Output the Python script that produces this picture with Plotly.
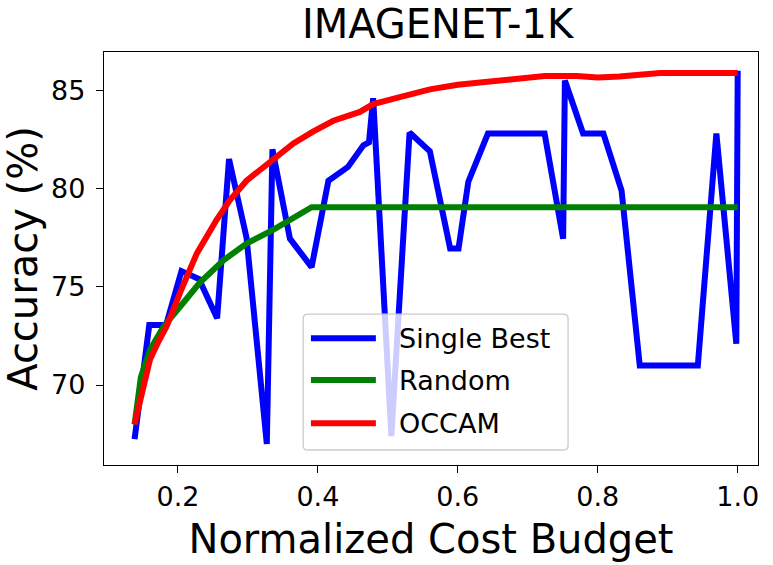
import plotly.graph_objects as go

# ---- data ----
single_x = [0.138, 0.159, 0.183, 0.205, 0.230, 0.256, 0.273, 0.298, 0.327, 0.335,
            0.360, 0.391, 0.415, 0.443, 0.465, 0.473, 0.479, 0.505, 0.531, 0.560,
            0.589, 0.601, 0.615, 0.643, 0.724, 0.7505, 0.753, 0.779, 0.808, 0.834,
            0.860, 0.943, 0.9695, 0.998, 1.0]
single_y = [67.25, 73.05, 73.05, 75.8, 75.4, 73.4, 81.5, 77.5, 67.0, 82.0,
            77.45, 76.0, 80.4, 81.1, 82.2, 82.35, 84.6, 67.4, 82.85, 81.9,
            76.95, 76.95, 80.35, 82.8, 82.8, 77.45, 85.5, 82.8, 82.8, 79.9,
            71.0, 71.0, 82.8, 72.1, 86.0]

random_x = [0.138, 0.147, 0.160, 0.180, 0.208, 0.231, 0.265, 0.298, 0.336, 0.360, 0.391, 1.0]
random_y = [68.0, 70.4, 71.8, 73.0, 74.2, 75.2, 76.35, 77.2, 77.9, 78.4, 79.05, 79.05]

occam_x = [0.138, 0.150, 0.160, 0.172, 0.184, 0.203, 0.227, 0.255, 0.274, 0.298,
           0.331, 0.365, 0.393, 0.422, 0.460, 0.479, 0.517, 0.560, 0.600, 0.650,
           0.698, 0.724, 0.770, 0.800, 0.831, 0.865, 0.889, 1.0]
occam_y = [68.0, 69.9, 71.3, 72.2, 73.0, 74.7, 76.7, 78.4, 79.4, 80.4,
           81.35, 82.3, 82.9, 83.45, 83.9, 84.3, 84.65, 85.05, 85.28, 85.45,
           85.6, 85.73, 85.73, 85.65, 85.7, 85.8, 85.88, 85.88]

series_names = ["Single Best", "Random", "OCCAM"]
series_colors = ["#0000ff", "#008000", "#ff0000"]

x_ticks = [0.2, 0.4, 0.6, 0.8, 1.0]
x_ticktext = ["0.2", "0.4", "0.6", "0.8", "1.0"]
y_ticks = [70, 75, 80, 85]
y_ticktext = ["70", "75", "80", "85"]

FONT = "DejaVu Sans"

fig = go.Figure()
for xs, ys, name, col in zip([single_x, random_x, occam_x],
                             [single_y, random_y, occam_y],
                             series_names, series_colors):
    fig.add_trace(go.Scatter(x=xs, y=ys, mode="lines", name=name,
                             line=dict(color=col, width=6),
                             showlegend=False))

# ---- custom legend (matplotlib-style box) ----
lx0, lx1, ly0, ly1 = 0.3046, 0.7096, 0.0363, 0.3653
rx, ry = 0.007, 0.011
path = (f"M{lx0+rx},{ly0} L{lx1-rx},{ly0} Q{lx1},{ly0} {lx1},{ly0+ry} "
        f"L{lx1},{ly1-ry} Q{lx1},{ly1} {lx1-rx},{ly1} L{lx0+rx},{ly1} "
        f"Q{lx0},{ly1} {lx0},{ly1-ry} L{lx0},{ly0+ry} Q{lx0},{ly0} {lx0+rx},{ly0} Z")
shapes = [dict(type="path", path=path, xref="paper", yref="paper",
               fillcolor="rgba(255,255,255,0.8)",
               line=dict(color="#cccccc", width=1.3), layer="above")]
annotations = []
row_y = [0.3066, 0.2057, 0.1009]
for yy, name, col in zip(row_y, series_names, series_colors):
    shapes.append(dict(type="line", xref="paper", yref="paper",
                       x0=0.3164, x1=0.4157, y0=yy, y1=yy,
                       line=dict(color=col, width=6), layer="above"))
    annotations.append(dict(text=name, xref="paper", yref="paper",
                            x=0.4473, y=yy, xanchor="left", yanchor="middle",
                            showarrow=False,
                            font=dict(family=FONT, size=27, color="black")))

axis_common = dict(showline=True, linecolor="black", linewidth=1.3, mirror=True,
                   ticks="outside", ticklen=7, tickwidth=1.3, tickcolor="black",
                   showgrid=False, zeroline=False,
                   tickfont=dict(family=FONT, size=27, color="black"))

fig.update_layout(
    width=773, height=565,
    margin=dict(l=104, r=15, t=52, b=100, autoexpand=False),
    paper_bgcolor="white", plot_bgcolor="white",
    title=dict(text="IMAGENET-1K", x=0.51, xref="paper", xanchor="center",
               y=0.957, yref="container", yanchor="middle",
               font=dict(family=FONT, size=40, color="black")),
    xaxis=dict(range=[0.0943, 1.029], tickvals=x_ticks, ticktext=x_ticktext,
               title=dict(text="Normalized Cost Budget", standoff=14,
                          font=dict(family=FONT, size=40, color="black")),
               **axis_common),
    yaxis=dict(range=[65.93, 86.95], tickvals=y_ticks, ticktext=y_ticktext,
               ticklabelstandoff=5,
               title=dict(text="Accuracy (%)", standoff=14,
                          font=dict(family=FONT, size=40, color="black")),
               **axis_common),
    shapes=shapes,
    annotations=annotations,
)

fig.write_html("out.html",
               config={"displayModeBar": False},
               post_script="document.body.style.margin='0px';")
